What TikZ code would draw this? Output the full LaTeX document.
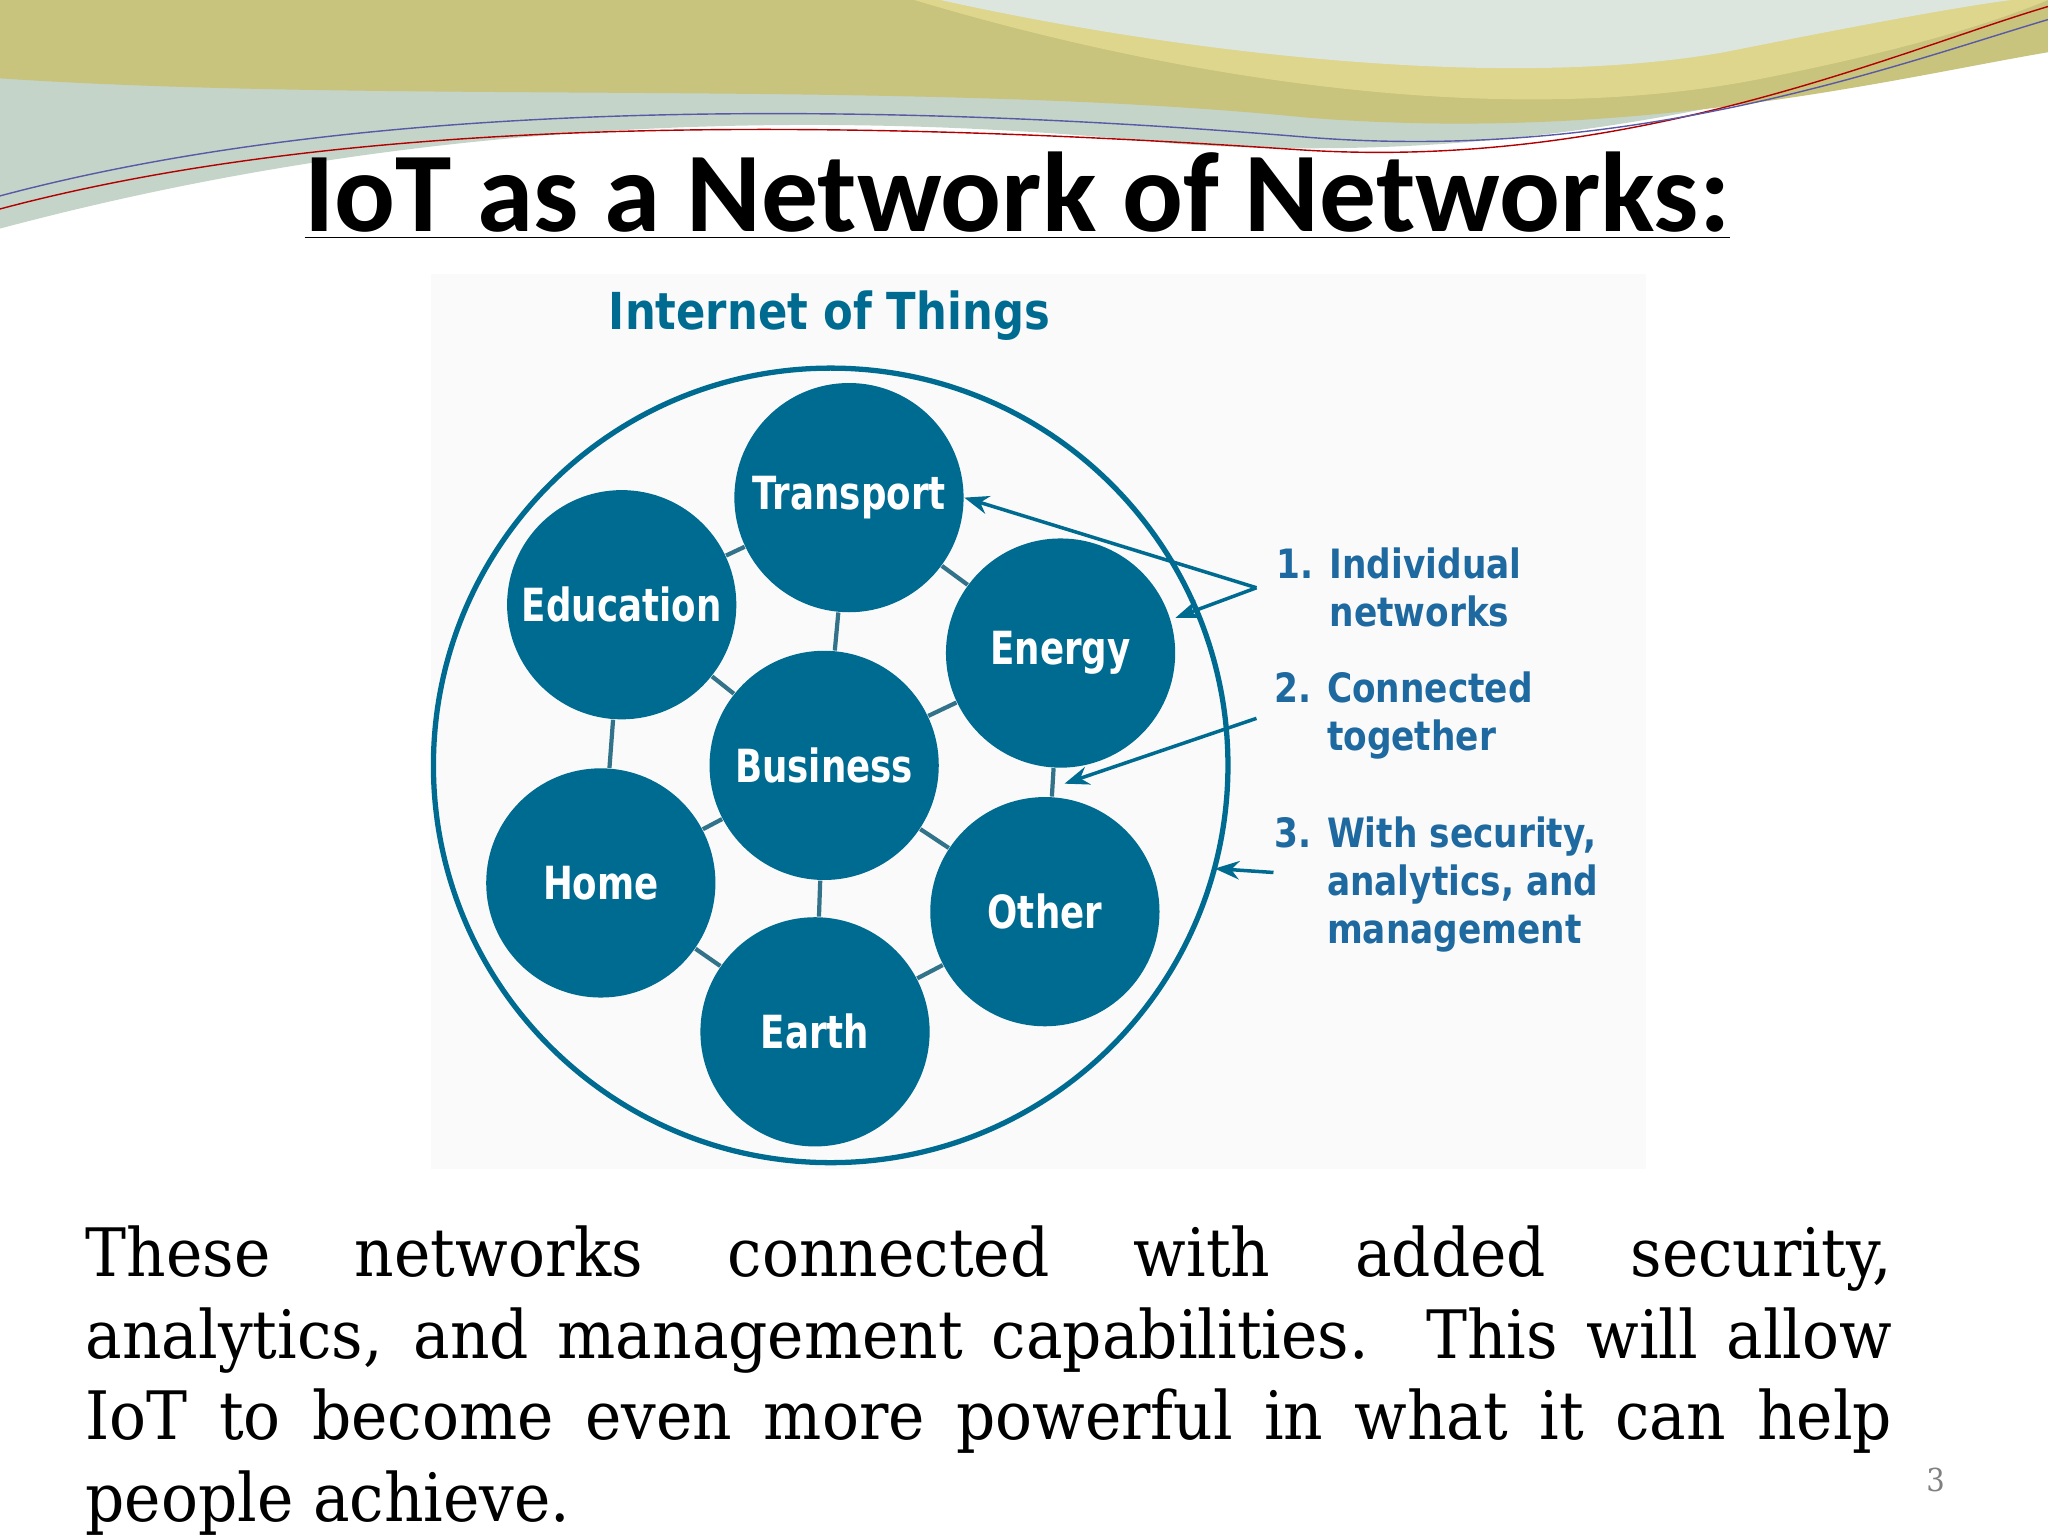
\documentclass[tikz,border=0pt]{standalone}
\usepackage{fontspec}
\setmainfont{DejaVu Serif}[FakeStretch=0.92]
\newfontfamily\titlefont{Carlito}
\newfontfamily\diagfont{DejaVu Sans}[FakeStretch=0.78]
\newfontfamily\annfont{DejaVu Sans}[FakeStretch=0.85]
\usetikzlibrary{arrows.meta}
\definecolor{iotblue}{RGB}{0,107,145}
\definecolor{annblue}{RGB}{30,105,160}
\definecolor{wavegreen}{RGB}{196,212,200}
\definecolor{waveolive}{RGB}{200,195,125}
\definecolor{waveyellow}{RGB}{222,214,140}
\begin{document}
\begin{tikzpicture}[x=0.013061cm,y=-0.013061cm]
    \tikzstyle{net}=[circle,fill=iotblue,minimum size=176pt*0.3706,inner sep=0pt,text=white,font=\diagfont\bfseries\fontsize{13}{15}\selectfont]
    \tikzstyle{link}=[draw=iotblue!60!gray,line width=1.2pt]
    \tikzstyle{ann}=[anchor=west,text=annblue,font=\annfont\bfseries\fontsize{11.5}{13.6}\selectfont,align=left]
    \tikzstyle{annarrow}=[draw=iotblue,line width=1pt,-{Stealth[length=7pt]}]

    \useasboundingbox (0,0) rectangle (1568,1176);
    \fill[white] (0,0) rectangle (1568,1176);

    % waves at the top
    \fill[wavegreen] (0,0) -- (0,175) .. controls (300,95) and (600,80) .. (900,110) .. controls (1200,130) and (1400,60) .. (1568,20) -- (1568,0) -- cycle;
    \fill[waveolive] (0,0) -- (0,60) .. controls (300,80) and (700,60) .. (1000,90) .. controls (1250,110) and (1450,60) .. (1568,40) -- (1568,0) -- cycle;
    \fill[waveyellow] (700,0) .. controls (900,60) and (1150,100) .. (1350,60) .. controls (1450,40) and (1520,20) .. (1568,0) -- cycle;
    \fill[wavegreen!60!white] (720,0) .. controls (900,40) and (1150,70) .. (1320,40) .. controls (1420,20) and (1500,5) .. (1540,0) -- cycle;
    \draw[red!70!black,thin] (0,160) .. controls (300,80) and (700,95) .. (1000,115) .. controls (1250,130) and (1450,40) .. (1568,5);
    \draw[gray!70!blue,thin] (0,150) .. controls (300,70) and (700,80) .. (1000,105) .. controls (1250,125) and (1450,50) .. (1568,15);

    % title
    \node (title) at (779,150) {\titlefont\bfseries\fontsize{32.3}{38}\selectfont\underline{IoT as a Network of Networks:}};

    % diagram
    \fill[gray!4] (330,210) rectangle (1260,895);
    \node[text=iotblue,font=\annfont\bfseries\fontsize{14.5}{18}\selectfont] (iot) at (635,242) {Internet of Things};
    \node[circle,draw=iotblue,line width=1.5pt,minimum size=610pt*0.3706,inner sep=0pt] (outer) at (636,586) {};

    \node[net] (transport) at (650,381) {Transport};
    \node[net] (education) at (476,463) {Education};
    \node[net] (energy) at (812,500) {Energy};
    \node[net] (business) at (631,586) {Business};
    \node[net] (home) at (460,676) {Home};
    \node[net] (other) at (800,698) {Other};
    \node[net] (earth) at (624,790) {Earth};

    \foreach \a/\b in {transport/education,transport/energy,transport/business,education/business,education/home,energy/business,energy/other,business/home,business/other,business/earth,home/earth,other/earth}
        \path[link] (\a) -- (\b);

    \node[ann] (a1) at (968,450) {1. Individual\\\phantom{1. }networks};
    \node[ann] (a2) at (966,548) {2. Connected\\\phantom{2. }together};
    \node[ann] (a3) at (966,677) {3. With security,\\\phantom{3. }analytics, and\\\phantom{3. }management};
    \coordinate (c1) at (962,450);
    \coordinate (c2) at (962,550);
    \coordinate (c3) at (975,668);
    \path[annarrow] (c1) -- (transport.east);
    \path[annarrow] (c1) -- (900,473);
    \path[annarrow] (c2) -- (815,600);
    \path[annarrow] (c3) -- (930,665);

    % text at the bottom
    \node[anchor=north west,inner sep=0pt,text width=1387pt*0.3706,align=justify,font=\fontsize{19}{23.2}\selectfont] (para) at (65,938)
        {\hyphenpenalty=10000 These networks connected with added security,\linebreak analytics, and management capabilities.\ \ This will allow\linebreak IoT to become even more powerful in what it can help\linebreak people achieve.};
    \node[text=gray,font=\fontsize{9}{11}\selectfont] (page) at (1482,1133) {3};
\end{tikzpicture}
\end{document}
